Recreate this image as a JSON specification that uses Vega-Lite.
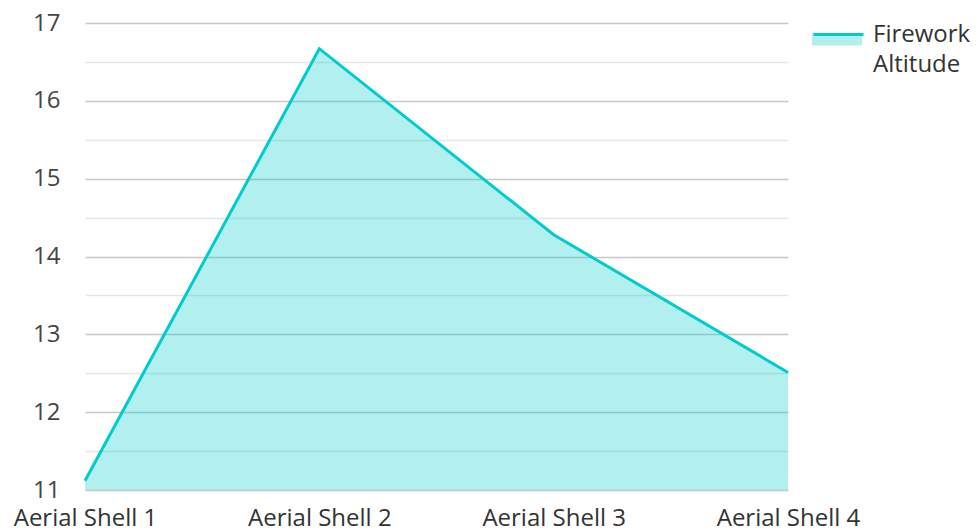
{
  "$schema": "https://vega.github.io/schema/vega-lite/v6.json",
  "autosize": "none",
  "width": 703,
  "height": 467,
  "padding": {"left": 85, "top": 23, "right": 188, "bottom": 41},
  "config": {
    "font": "Open Sans",
    "view": {"stroke": null}
  },
  "data": {
    "values": [
      {"shell": "Aerial Shell 1", "altitude": 11.12, "series": "Firework Altitude"},
      {"shell": "Aerial Shell 2", "altitude": 16.67, "series": "Firework Altitude"},
      {"shell": "Aerial Shell 3", "altitude": 14.28, "series": "Firework Altitude"},
      {"shell": "Aerial Shell 4", "altitude": 12.51, "series": "Firework Altitude"}
    ]
  },
  "encoding": {
    "x": {
      "field": "shell",
      "type": "ordinal",
      "scale": {"type": "point", "padding": 0},
      "axis": {
        "title": null,
        "labelAngle": 0,
        "labelFontSize": 24,
        "labelColor": "#333333",
        "labelPadding": 16,
        "ticks": false,
        "domain": false,
        "grid": false
      }
    },
    "y": {
      "field": "altitude",
      "type": "quantitative",
      "scale": {"domain": [11, 17], "nice": false, "zero": false},
      "axis": {
        "title": null,
        "values": [11, 11.5, 12, 12.5, 13, 13.5, 14, 14.5, 15, 15.5, 16, 16.5, 17],
        "labelExpr": "datum.value % 1 === 0 ? format(datum.value, 'd') : ''",
        "labelFontSize": 24,
        "labelColor": "#444444",
        "labelPadding": 25,
        "ticks": false,
        "domain": false,
        "grid": true,
        "gridColor": {"condition": {"test": "datum.value % 1 === 0", "value": "#c8c8c8"}, "value": "#e6e6e6"},
        "gridWidth": 1.5
      }
    }
  },
  "layer": [
    {
      "mark": {"type": "area", "opacity": 0.3, "interpolate": "linear"},
      "encoding": {
        "y2": {"datum": 11},
        "fill": {
          "field": "series",
          "type": "nominal",
          "scale": {"domain": ["Firework Altitude"], "range": ["#00cccc"]},
          "legend": {
            "title": null,
            "orient": "none",
            "legendX": 727,
            "legendY": -15,
            "symbolType": "M-1,0H1V0.5H-1Z",
            "symbolSize": 2500,
            "symbolOpacity": 0.3,
            "symbolStrokeWidth": 0,
            "labelExpr": "''",
            "labelFontSize": 24
          }
        }
      }
    },
    {
      "mark": {"type": "line", "strokeWidth": 3, "color": "#00cccc"},
      "encoding": {
        "stroke": {
          "field": "series",
          "type": "nominal",
          "scale": {"range": ["#00cccc"]},
          "legend": {
            "title": null,
            "orient": "none",
            "legendX": 727,
            "legendY": -15,
            "symbolType": "stroke",
            "symbolSize": 2500,
            "symbolStrokeWidth": 3,
            "labelFontSize": 24,
            "labelColor": "#333333",
            "labelOffset": 8,
            "labelExpr": "['Firework', 'Altitude']",
            "encode": {"labels": {"update": {"lineHeight": {"value": 30}}}}
          }
        }
      }
    }
  ]
}
